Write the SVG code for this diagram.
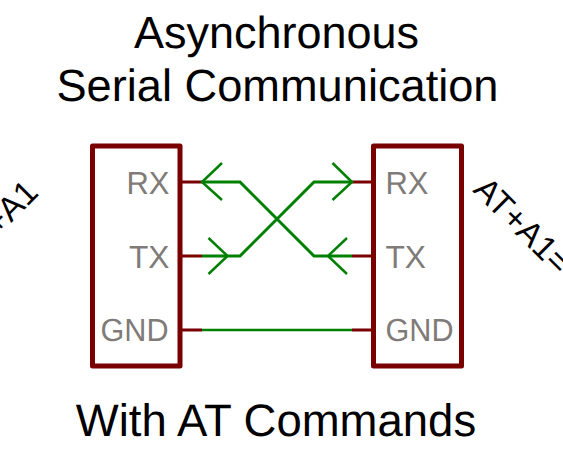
<svg xmlns="http://www.w3.org/2000/svg" width="563" height="469" viewBox="0 0 563 469">
<style>
text{font-family:"Liberation Sans",Arial,sans-serif;text-rendering:geometricPrecision}
.title{font-size:45px;fill:#000;text-anchor:middle}
.rot{font-size:33.500px;fill:#000}
.pin{font-size:32px;fill:#7f7b78}
.box{fill:#fff;stroke:#7a0000;stroke-width:5;stroke-linejoin:round}
.stub{fill:none;stroke:#7a0000;stroke-width:3}
.wire{fill:none;stroke:#008000;stroke-width:3}
.thin{fill:none;stroke:#008000;stroke-width:2.500}
</style>
<rect width="563" height="469" fill="#fff"/>
<g id="title">
<text class="title" x="276.500" y="48">Asynchronous</text>
<text class="title" x="277.500" y="101" style="font-size:45.200px">Serial Communication</text>
<text class="title" x="276" y="436" style="font-size:45.500px">With AT Commands</text>
</g>
<g id="left-command"><text class="rot" text-anchor="end" transform="translate(40 194) rotate(-45)">AT+A1</text></g>
<g id="right-command"><text class="rot" transform="translate(472 191) rotate(45)">AT+A1=</text></g>
<g id="connectors">
<path class="stub" d="M182 182H202M182 256H202M182 330H202M352 182H371M352 256H371M352 330H371"/>
<path class="wire" d="M202 182H240L314 256H352M202 256H240L314 182H352"/>
<path class="thin" d="M202 330H352"/>
<path class="thin" d="M222 163L202 182L222 200M208.500 238L227.500 256L208.500 274M332.500 163L352 182L332.500 200M347 238L328 256L347 274"/>
</g>
<g id="left-block">
<rect class="box" x="92.500" y="146" width="87.500" height="220"/>
<text class="pin" x="126.500" y="193.500" textLength="43" lengthAdjust="spacingAndGlyphs">RX</text>
<text class="pin" x="129" y="267.500" textLength="40.500" lengthAdjust="spacingAndGlyphs">TX</text>
<text class="pin" x="100.500" y="341" textLength="68" lengthAdjust="spacingAndGlyphs">GND</text>
</g>
<g id="right-block">
<rect class="box" x="373.500" y="146" width="88" height="220"/>
<text class="pin" x="385.500" y="193.500" textLength="43" lengthAdjust="spacingAndGlyphs">RX</text>
<text class="pin" x="385.500" y="267.500" textLength="40.500" lengthAdjust="spacingAndGlyphs">TX</text>
<text class="pin" x="385.500" y="341" textLength="68" lengthAdjust="spacingAndGlyphs">GND</text>
</g>
</svg>
